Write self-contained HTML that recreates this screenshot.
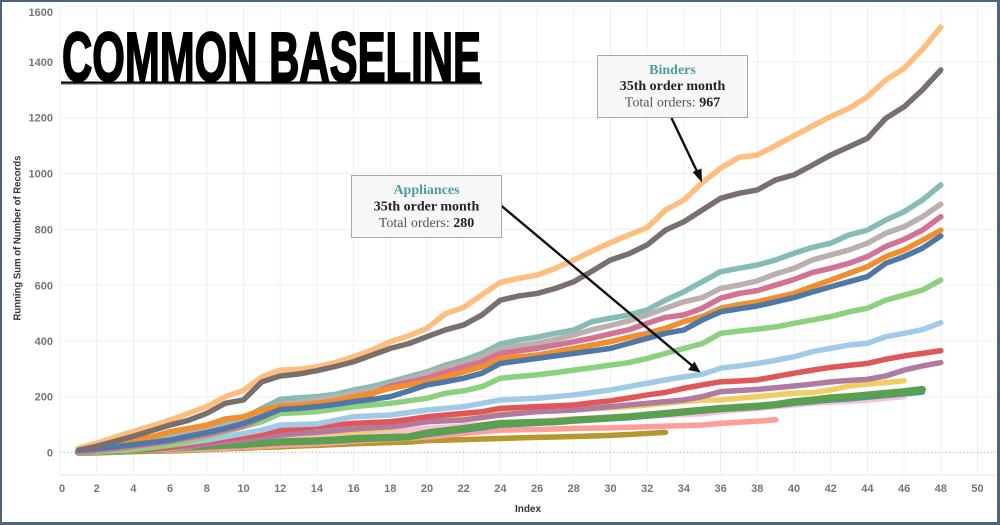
<!DOCTYPE html>
<html><head><meta charset="utf-8"><style>
html,body{margin:0;padding:0;background:#fff;}
svg{display:block;}
</style></head><body>
<svg width="1000" height="525" viewBox="0 0 1000 525" xmlns="http://www.w3.org/2000/svg">
<rect x="0" y="0" width="1000" height="525" fill="#fff"/>
<!-- gridlines vertical -->
<g stroke="#efefef" stroke-width="1">
<line x1="60" y1="6" x2="60" y2="475"/><line x1="96.7" y1="6" x2="96.7" y2="475"/><line x1="133.4" y1="6" x2="133.4" y2="475"/><line x1="170.1" y1="6" x2="170.1" y2="475"/><line x1="206.8" y1="6" x2="206.8" y2="475"/><line x1="243.5" y1="6" x2="243.5" y2="475"/><line x1="280.2" y1="6" x2="280.2" y2="475"/><line x1="316.9" y1="6" x2="316.9" y2="475"/><line x1="353.6" y1="6" x2="353.6" y2="475"/><line x1="390.3" y1="6" x2="390.3" y2="475"/><line x1="427" y1="6" x2="427" y2="475"/><line x1="463.7" y1="6" x2="463.7" y2="475"/><line x1="500.4" y1="6" x2="500.4" y2="475"/><line x1="537.1" y1="6" x2="537.1" y2="475"/><line x1="573.8" y1="6" x2="573.8" y2="475"/><line x1="610.5" y1="6" x2="610.5" y2="475"/><line x1="647.2" y1="6" x2="647.2" y2="475"/><line x1="683.9" y1="6" x2="683.9" y2="475"/><line x1="720.6" y1="6" x2="720.6" y2="475"/><line x1="757.3" y1="6" x2="757.3" y2="475"/><line x1="794" y1="6" x2="794" y2="475"/><line x1="830.7" y1="6" x2="830.7" y2="475"/><line x1="867.4" y1="6" x2="867.4" y2="475"/><line x1="904.1" y1="6" x2="904.1" y2="475"/><line x1="940.8" y1="6" x2="940.8" y2="475"/><line x1="977.5" y1="6" x2="977.5" y2="475"/>
</g>
<g stroke="#efefef" stroke-width="1">
<line x1="60" y1="6.2" x2="996" y2="6.2"/><line x1="60" y1="62" x2="996" y2="62"/><line x1="60" y1="117.7" x2="996" y2="117.7"/><line x1="60" y1="173.5" x2="996" y2="173.5"/><line x1="60" y1="229.3" x2="996" y2="229.3"/><line x1="60" y1="285" x2="996" y2="285"/><line x1="60" y1="340.8" x2="996" y2="340.8"/><line x1="60" y1="396.6" x2="996" y2="396.6"/>
<line x1="60" y1="475" x2="996" y2="475" stroke="#e6e6e6"/>
</g>
<line x1="60" y1="452.4" x2="996" y2="452.4" stroke="#bdbdbd" stroke-width="1" stroke-dasharray="1.5,2"/>

<!-- Y labels -->
<g font-family="Liberation Sans, sans-serif" font-size="11" font-weight="bold" fill="#757575" text-anchor="end">
<text x="53" y="16">1600</text><text x="53" y="66">1400</text><text x="53" y="121.5">1200</text><text x="53" y="177.5">1000</text><text x="53" y="233.5">800</text><text x="53" y="289.5">600</text><text x="53" y="345">400</text><text x="53" y="400.5">200</text><text x="53" y="456.5">0</text>
</g>
<!-- X labels -->
<g font-family="Liberation Sans, sans-serif" font-size="11" font-weight="bold" fill="#757575" text-anchor="middle">
<text x="62" y="492">0</text><text x="96.7" y="492">2</text><text x="133.4" y="492">4</text><text x="170.1" y="492">6</text><text x="206.8" y="492">8</text><text x="243.5" y="492">10</text><text x="280.2" y="492">12</text><text x="316.9" y="492">14</text><text x="353.6" y="492">16</text><text x="390.3" y="492">18</text><text x="427" y="492">20</text><text x="463.7" y="492">22</text><text x="500.4" y="492">24</text><text x="537.1" y="492">26</text><text x="573.8" y="492">28</text><text x="610.5" y="492">30</text><text x="647.2" y="492">32</text><text x="683.9" y="492">34</text><text x="720.6" y="492">36</text><text x="757.3" y="492">38</text><text x="794" y="492">40</text><text x="830.7" y="492">42</text><text x="867.4" y="492">44</text><text x="904.1" y="492">46</text><text x="940.8" y="492">48</text><text x="977.5" y="492">50</text>
</g>
<text x="528" y="512" font-family="Liberation Sans, sans-serif" font-size="10" font-weight="bold" fill="#333" text-anchor="middle">Index</text>
<text transform="translate(20.5 238) rotate(-90)" font-family="Liberation Sans, sans-serif" font-size="10" font-weight="bold" fill="#333" text-anchor="middle" textLength="165" lengthAdjust="spacingAndGlyphs">Running Sum of Number of Records</text>

<!-- data -->
<g transform="translate(60 452.4) scale(18.35 -0.2789)" fill="none" stroke-linejoin="round" stroke-linecap="round">
<polyline vector-effect="non-scaling-stroke" stroke="#b6992d" stroke-width="5.5" points="1,0 2,1 3,2 4,3 5,4 6,5 7,7 8,10 9,13 10,15 11,18 12,20 13,23 14,25 15,28 16,31 17,33 18,35 19,37 20,42 21,44 22,46 23,48 24,50 25,52 26,54 27,55 28,57 29,59 30,61 31,64 32,68 33,72"/>
<polyline vector-effect="non-scaling-stroke" stroke="#ff9d9a" stroke-width="5.5" points="1,0 2,1 3,2 4,4 5,6 6,8 7,10 8,12 9,15 10,18 11,21 12,25 13,28 14,31 15,35 16,40 17,44 18,48 19,51 20,55 21,61 22,68 23,74 24,80 25,81 26,82 27,84 28,86 29,87 30,88 31,90 32,92 33,94 34,96 35,98 36,104 37,108 38,112 39,117"/>
<polyline vector-effect="non-scaling-stroke" stroke="#fabfd2" stroke-width="5.5" points="1,0 2,1 3,3 4,6 5,9 6,13 7,18 8,24 9,30 10,36 11,42 12,50 13,54 14,58 15,62 16,66 17,70 18,74 19,80 20,86 21,90 22,95 23,100 24,106 25,109 26,112 27,116 28,120 29,123 30,126 31,128 32,130 33,133 34,136 35,138 36,146 37,152 38,158 39,164 40,170 41,176 42,180 43,184 44,188 45,194 46,200"/>
<polyline vector-effect="non-scaling-stroke" stroke="#499894" stroke-width="5.5" points="1,0 2,1 3,2 4,5 5,8 6,12 7,16 8,20 9,23 10,26 11,30 12,34 13,36 14,38 15,41 16,45 17,48 18,50 19,53 20,64 21,72 22,80 23,88 24,98 25,101 26,104 27,107 28,112 29,116 30,120 31,124 32,130 33,136 34,142 35,148 36,154 37,158 38,162 39,168 40,176 41,182 42,188 43,192 44,198 45,204 46,210 47,216"/>
<polyline vector-effect="non-scaling-stroke" stroke="#59a14f" stroke-width="7" points="1,0 2,1 3,3 4,6 5,10 6,15 7,19 8,22 9,25 10,28 11,33 12,38 13,40 14,42 15,45 16,50 17,52 18,54 19,56 20,70 21,78 22,86 23,95 24,104 25,106 26,108 27,110 28,116 29,120 30,124 31,128 32,134 33,140 34,146 35,152 36,158 37,162 38,166 39,172 40,182 41,188 42,196 43,200 44,206 45,212 46,218 47,226"/>
<polyline vector-effect="non-scaling-stroke" stroke="#f1ce63" stroke-width="5.5" points="1,0 2,1 3,3 4,6 5,10 6,14 7,20 8,35 9,40 10,46 11,55 12,62 13,66 14,70 15,72 16,74 17,80 18,86 19,100 20,116 21,122 22,128 23,134 24,140 25,143 26,146 27,149 28,152 29,156 30,160 31,164 32,170 33,176 34,182 35,188 36,188 37,194 38,200 39,206 40,212 41,214 42,224 43,238 44,245 45,250 46,257"/>
<polyline vector-effect="non-scaling-stroke" stroke="#b07aa1" stroke-width="5.5" points="1,1 2,2 3,4 4,7 5,11 6,16 7,22 8,30 9,38 10,45 11,54 12,62 13,68 14,72 15,78 16,84 17,88 18,92 19,100 20,110 21,113 22,116 23,125 24,134 25,140 26,146 27,149 28,152 29,158 30,164 31,170 32,176 33,182 34,188 35,200 36,218 37,222 38,226 39,232 40,238 41,245 42,253 43,258 44,262 45,274 46,295 47,310 48,322"/>
<polyline vector-effect="non-scaling-stroke" stroke="#e15759" stroke-width="5.5" points="1,1 2,2 3,4 4,8 5,14 6,20 7,28 8,38 9,48 10,56 11,66 12,80 13,86 14,92 15,98 16,104 17,107 18,110 19,118 20,128 21,134 22,140 23,146 24,158 25,161 26,164 27,167 28,170 29,178 30,185 31,195 32,206 33,215 34,230 35,242 36,253 37,256 38,260 39,272 40,284 41,295 42,305 43,312 44,319 45,334 46,346 47,355 48,365"/>
<polyline vector-effect="non-scaling-stroke" stroke="#a0cbe8" stroke-width="5.5" points="1,1 2,3 3,7 4,12 5,18 6,26 7,35 8,44 9,56 10,68 11,80 12,98 13,100 14,102 15,115 16,128 17,131 18,134 19,143 20,152 21,158 22,164 23,176 24,188 25,191 26,194 27,200 28,206 29,215 30,224 31,236 32,248 33,260 34,271 35,280 36,302 37,310 38,319 39,330 40,343 41,361 42,373 43,385 44,391 45,415 46,427 47,440 48,465"/>
<polyline vector-effect="non-scaling-stroke" stroke="#8cd17d" stroke-width="5.5" points="1,1 2,3 3,6 4,10 5,18 6,26 7,40 8,56 9,74 10,92 11,110 12,140 13,142 14,146 15,155 16,164 17,170 18,176 19,185 20,194 21,212 22,221 23,236 24,266 25,272 26,278 27,286 28,295 29,304 30,313 31,322 32,337 33,355 34,373 35,390 36,427 37,435 38,442 39,450 40,463 41,475 42,487 43,504 44,517 45,546 46,564 47,582 48,618"/>
<polyline vector-effect="non-scaling-stroke" stroke="#86bcb6" stroke-width="5.5" points="1,3 2,10 3,20 4,30 5,40 6,56 7,71 8,86 9,104 10,122 11,158 12,190 13,196 14,200 15,208 16,224 17,236 18,253 19,271 20,289 21,313 22,331 23,355 24,389 25,403 26,413 27,427 28,439 29,469 30,481 31,493 32,511 33,546 34,576 35,612 36,648 37,660 38,672 39,690 40,714 41,735 42,750 43,780 44,797 45,833 46,863 47,905 48,959"/>
<polyline vector-effect="non-scaling-stroke" stroke="#bab0ac" stroke-width="5.5" points="1,3 2,9 3,18 4,28 5,38 6,50 7,64 8,78 9,95 10,112 11,145 12,172 13,180 14,188 15,198 16,212 17,226 18,242 19,262 20,282 21,303 22,319 23,343 24,372 25,382 26,391 27,405 28,421 29,440 30,455 31,472 32,493 33,517 34,540 35,555 36,588 37,600 38,615 39,640 40,660 41,690 42,708 43,726 44,750 45,786 46,809 47,845 48,890"/>
<polyline vector-effect="non-scaling-stroke" stroke="#d37295" stroke-width="5.5" points="1,2 2,7 3,14 4,22 5,30 6,40 7,52 8,64 9,80 10,95 11,125 12,155 13,162 14,170 15,182 16,196 17,210 18,238 19,252 20,266 21,287 22,307 23,325 24,355 25,364 26,373 27,385 28,397 29,410 30,425 31,440 32,463 33,484 34,493 35,517 36,553 37,570 38,580 39,600 40,620 41,645 42,660 43,678 44,702 45,738 46,764 47,797 48,845"/>
<polyline vector-effect="non-scaling-stroke" stroke="#f28e2b" stroke-width="5.5" points="1,8 2,20 3,32 4,44 5,56 6,74 7,86 8,98 9,120 10,128 11,152 12,166 13,170 14,176 15,185 16,200 17,212 18,230 19,242 20,253 21,271 22,289 23,307 24,337 25,343 26,349 27,361 28,373 29,385 30,397 31,413 32,427 33,445 34,469 35,487 36,517 37,530 38,540 39,555 40,570 41,595 42,618 43,642 44,666 45,702 46,726 47,761 48,797"/>
<polyline vector-effect="non-scaling-stroke" stroke="#4e79a7" stroke-width="5.5" points="1,8 2,13 3,20 4,28 5,36 6,44 7,58 8,71 9,86 10,104 11,128 12,154 13,158 14,164 15,172 16,182 17,190 18,200 19,220 20,242 21,253 22,266 23,284 24,319 25,328 26,337 27,346 28,355 29,364 30,373 31,391 32,409 33,427 34,439 35,475 36,504 37,515 38,525 39,540 40,555 41,575 42,594 43,612 44,630 45,678 46,702 47,732 48,776"/>
<polyline vector-effect="non-scaling-stroke" stroke="#ffbe7d" stroke-width="5.5" points="1,15 2,33 3,55 4,75 5,95 6,116 7,140 8,164 9,200 10,222 11,271 12,295 13,298 14,307 15,322 16,343 17,367 18,397 19,418 20,445 21,497 22,520 23,565 24,610 25,624 26,636 27,660 28,690 29,722 30,752 31,780 32,806 33,869 34,905 35,967 36,1019 37,1058 38,1066 39,1100 40,1135 41,1170 42,1204 43,1234 44,1275 45,1335 46,1377 47,1445 48,1525"/>
<polyline vector-effect="non-scaling-stroke" stroke="#79706e" stroke-width="5.5" points="1,8 2,22 3,40 4,58 5,78 6,98 7,115 8,140 9,176 10,188 11,253 12,274 13,281 14,293 15,308 16,325 17,349 18,373 19,390 20,415 21,439 22,457 23,493 24,546 25,561 26,570 27,588 28,612 29,650 30,690 31,712 32,744 33,797 34,827 35,869 36,911 37,929 38,941 39,977 40,995 41,1030 42,1066 43,1096 44,1126 45,1198 46,1239 47,1300 48,1371"/>
</g>

<!-- Title -->
<text x="62" y="81" font-family="Liberation Sans, sans-serif" font-size="70" font-weight="bold" fill="#000" stroke="#000" stroke-width="2" textLength="419" lengthAdjust="spacingAndGlyphs">COMMON BASELINE</text>
<rect x="61" y="81.5" width="421" height="2.2" fill="#000"/>
<rect x="61" y="83.7" width="421" height="1" fill="#888"/>

<!-- Arrows -->
<g stroke="#111" stroke-width="2.4" fill="#111">
<line x1="671.5" y1="118" x2="697.5" y2="172.5"/>
<polygon points="702,182.5 692.5,172 701.5,168.5" stroke="none"/>
<line x1="501" y1="205.5" x2="692" y2="365.5"/>
<polygon points="700.5,372.5 688,370 694.5,361.5" stroke="none"/>
</g>

<!-- Binders box -->
<rect x="597.5" y="55.5" width="150" height="62" fill="#f8f8f8" stroke="#a8a8a8" stroke-width="1"/>
<g font-family="Liberation Serif, serif" font-size="14" text-anchor="middle">
<text x="672.5" y="74" font-weight="bold" fill="#4a9e9c">Binders</text>
<text x="672.5" y="90" font-weight="bold" fill="#222">35th order month</text>
<text x="672.5" y="106.5" fill="#555">Total orders: <tspan font-weight="bold" fill="#222">967</tspan></text>
</g>
<!-- Appliances box -->
<rect x="351.5" y="175.5" width="150" height="62" fill="#f8f8f8" stroke="#a8a8a8" stroke-width="1"/>
<g font-family="Liberation Serif, serif" font-size="14" text-anchor="middle">
<text x="426.5" y="194" font-weight="bold" fill="#4a9e9c">Appliances</text>
<text x="426.5" y="210.5" font-weight="bold" fill="#222">35th order month</text>
<text x="426.5" y="227" fill="#555">Total orders: <tspan font-weight="bold" fill="#222">280</tspan></text>
</g>

<!-- image border -->
<rect x="0" y="0" width="1000" height="2" fill="#4e6479"/>
<rect x="0" y="0" width="2" height="525" fill="#4e6479"/>
<rect x="997" y="0" width="3" height="525" fill="#4e6479"/>
<rect x="0" y="522" width="1000" height="3" fill="#4e6479"/>
</svg>
</body></html>
